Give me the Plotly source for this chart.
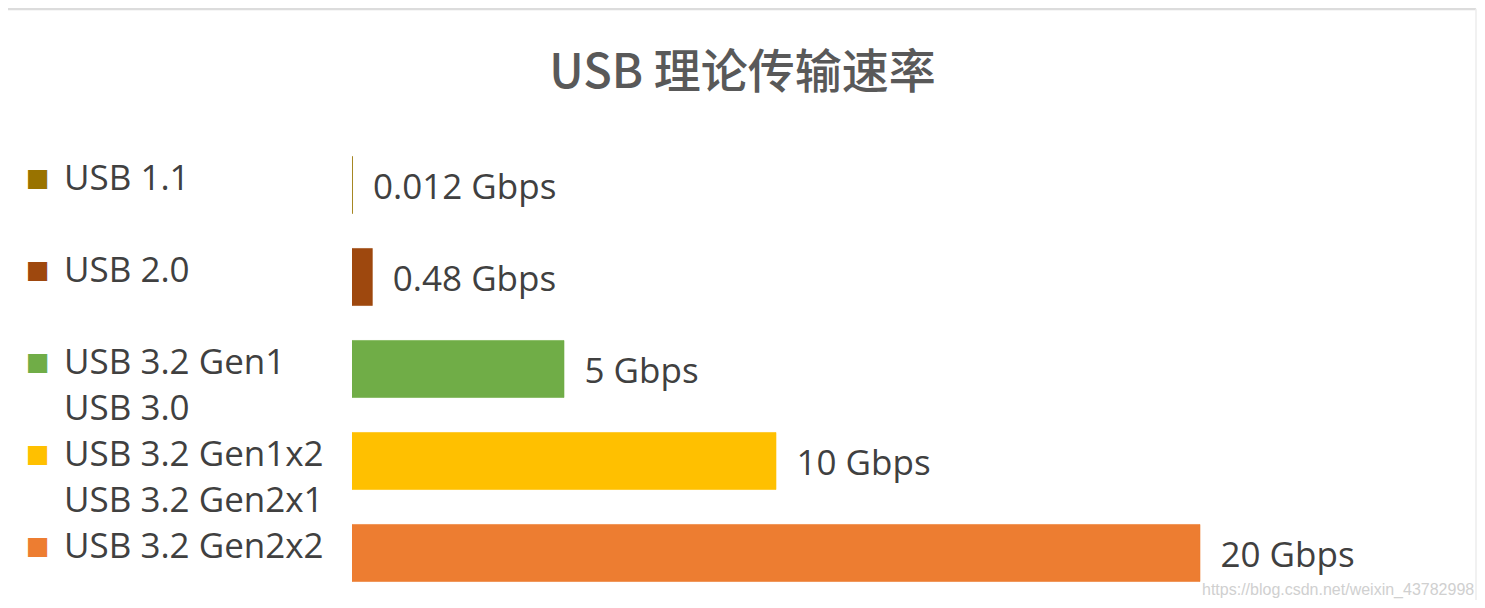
import plotly.graph_objects as go

# category keys (one per bar), legend labels shown on the left, speeds in Gbps
categories = ["USB 1.1", "USB 2.0", "USB 3.2 Gen1", "USB 3.2 Gen1x2", "USB 3.2 Gen2x2"]
legend_labels = ["USB 1.1", "USB 2.0", "USB 3.2 Gen1<br>USB 3.0",
                 "USB 3.2 Gen1x2<br>USB 3.2 Gen2x1", "USB 3.2 Gen2x2"]
speeds = [0.012, 0.48, 5, 10, 20]
speed_labels = ["0.012 Gbps", "0.48 Gbps", "5 Gbps", "10 Gbps", "20 Gbps"]
colors = ["#997300", "#9E480E", "#70AD47", "#FFC000", "#ED7D31"]

text_font = dict(family="Open Sans, Noto Sans, sans-serif", size=35, color="#404040")

fig = go.Figure()

fig.add_trace(go.Bar(
    y=categories,
    x=speeds,
    orientation="h",
    marker=dict(color=colors, line=dict(color=colors, width=0.6)),
    text=["\u2002" + s for s in speed_labels],
    textposition="outside",
    textfont=text_font,
    cliponaxis=False,
    hoverinfo="skip",
    showlegend=False,
))

# left-hand legend: coloured square + label, tied to each bar's row
for cat, label, col in zip(categories, legend_labels, colors):
    fig.add_annotation(
        x=0, y=cat, xref="paper", yref="y",
        text="■", showarrow=False,
        xanchor="left", yanchor="middle",
        xshift=-328, yshift=8,
        font=dict(family="DejaVu Sans", size=25, color=col),
    )
    fig.add_annotation(
        x=0, y=cat, xref="paper", yref="y",
        text=label, showarrow=False, align="left",
        xanchor="left", yanchor="top",
        xshift=-290, yshift=34,
        font=text_font,
    )

# watermark
fig.add_annotation(
    x=1.0, y=0, xref="paper", yref="paper",
    xanchor="right", yanchor="middle",
    xshift=124, yshift=9,
    text="https://blog.csdn.net/weixin_43782998", showarrow=False,
    font=dict(family="Liberation Sans, Arial", size=16, color="#d0d0d0"),
)

# thin frame edges (top and right)
fig.add_shape(type="line", xref="paper", yref="paper",
              x0=-0.4, x1=1.124, y0=1.283, y1=1.283,
              line=dict(color="#dcdcdc", width=3))
fig.add_shape(type="line", xref="paper", yref="paper",
              x0=1.124, x1=1.124, y0=-0.1, y1=1.283,
              line=dict(color="#ececec", width=1.5))

# page body has an 8px margin, so size and margins are offset by 8px
fig.update_layout(
    width=1469, height=592,
    margin=dict(l=344, r=125, t=131, b=1),
    paper_bgcolor="white",
    plot_bgcolor="white",
    bargap=0.38,
    title=dict(
        text="USB 理论传输速率",
        x=0.5, xref="container", xanchor="center",
        y=1 - 64 / 592, yref="container", yanchor="middle",
        font=dict(family="Noto Sans CJK SC, sans-serif", size=47, color="#595959",
                  weight=500),
    ),
    xaxis=dict(range=[0, 20 * 1000 / 848], visible=False, fixedrange=True),
    yaxis=dict(autorange="reversed", visible=False, fixedrange=True),
)

fig.write_html("out.html")
